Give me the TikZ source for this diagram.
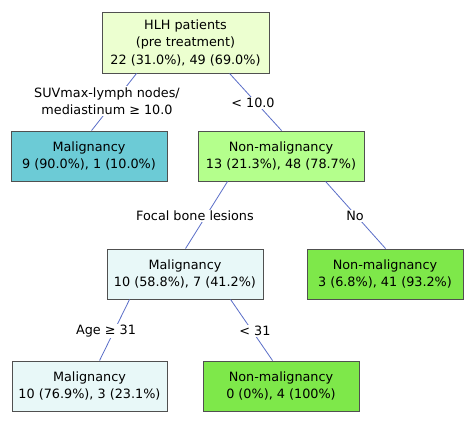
\documentclass[tikz,border=0pt]{standalone}
\usepackage{fontspec}
\setmainfont{DejaVu Sans}
\definecolor{topc}{RGB}{236,255,208}
\definecolor{bluec}{RGB}{108,203,214}
\definecolor{nmone}{RGB}{180,255,140}
\definecolor{lightc}{RGB}{232,248,248}
\definecolor{nmtwo}{RGB}{126,232,74}
\definecolor{edgec}{RGB}{90,110,200}
\definecolor{borderc}{RGB}{80,80,80}
\begin{document}
\begin{tikzpicture}[x=1pt,y=-1pt,
  box/.style={draw=borderc,line width=0.9pt,align=center,inner sep=0pt,
    font=\fontsize{12.8}{17.5}\selectfont},
  edgeline/.style={draw=edgec,line width=0.8pt},
  lbl/.style={fill=white,inner sep=1pt,align=center,font=\fontsize{12.8}{17.5}\selectfont}]
\useasboundingbox (0,0) rectangle (474,424);
\fill[white] (0,0) rectangle (474,424);
\node[box,fill=topc,minimum width=167pt,minimum height=61pt] (top) at (185.5,42.5)
  {HLH patients\\(pre treatment)\\22 (31.0\%), 49 (69.0\%)};
\node[box,fill=bluec,minimum width=156pt,minimum height=50pt] (mal1) at (89,156)
  {Malignancy\\9 (90.0\%), 1 (10.0\%)};
\node[box,fill=nmone,minimum width=166pt,minimum height=50pt] (nm1) at (281,156)
  {Non-malignancy\\13 (21.3\%), 48 (78.7\%)};
\node[box,fill=lightc,minimum width=156pt,minimum height=50pt] (mal2) at (185,274)
  {Malignancy\\10 (58.8\%), 7 (41.2\%)};
\node[box,fill=nmtwo,minimum width=156pt,minimum height=50pt] (nm2) at (385,274)
  {Non-malignancy\\3 (6.8\%), 41 (93.2\%)};
\node[box,fill=lightc,minimum width=155pt,minimum height=50pt] (mal3) at (89.5,386)
  {Malignancy\\10 (76.9\%), 3 (23.1\%)};
\node[box,fill=nmtwo,minimum width=156pt,minimum height=50pt] (nm3) at (281,386)
  {Non-malignancy\\0 (0\%), 4 (100\%)};
\draw[edgeline] ([xshift=35pt]top.south west) -- ([xshift=81pt]mal1.north west);
\draw[edgeline] ([xshift=128pt]top.south west) -- ([xshift=84pt]nm1.north west);
\draw[edgeline] ([xshift=30pt]nm1.south west) -- ([xshift=79pt]mal2.north west);
\draw[edgeline] ([xshift=128pt]nm1.south west) -- ([xshift=79pt]nm2.north west);
\draw[edgeline] ([xshift=23pt]mal2.south west) -- ([xshift=88pt]mal3.north west);
\draw[edgeline] ([xshift=124pt]mal2.south west) -- ([xshift=70pt]nm3.north west);
\node[lbl] (l1) at (107,101) {SUVmax-lymph nodes/\\mediastinum ≥ 10.0};
\node[lbl] (l2) at (253,103) {< 10.0};
\node[lbl] (l3) at (195,216) {Focal bone lesions};
\node[lbl] (l4) at (355,216) {No};
\node[lbl] (l5) at (106,331) {Age ≥ 31};
\node[lbl] (l6) at (255,331) {< 31};
\end{tikzpicture}
\end{document}
